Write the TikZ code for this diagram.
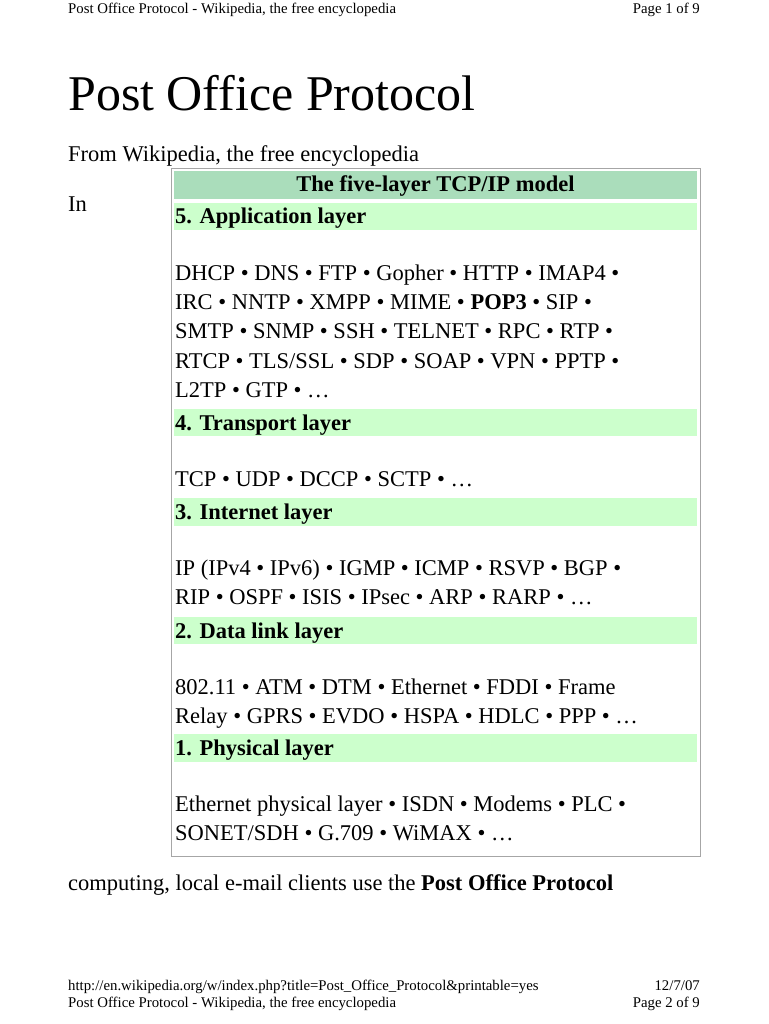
\documentclass[tikz,border=0pt]{standalone}
\usepackage{fontspec}
\setmainfont{Liberation Serif}
\begin{document}
\begin{tikzpicture}[x=1pt,y=-1pt,
  txt/.style={anchor=base west,inner sep=0pt,font=\fontsize{22.5}{25}\selectfont},
  btxt/.style={anchor=base west,inner sep=0pt,font=\fontsize{22.5}{25}\selectfont\bfseries},
  small/.style={inner sep=0pt,font=\fontsize{14.8}{16}\selectfont},
  ]
\definecolor{lightg}{HTML}{CCFFCC}
\definecolor{darkg}{HTML}{AADDBB}
\useasboundingbox (0,0) rectangle (768,1024);
\fill[white] (0,0) rectangle (768,1024);
\node[small,anchor=base west] (h1) at (68,14) {Post Office Protocol - Wikipedia, the free encyclopedia};
\node[small,anchor=base east] (h2) at (700,14) {Page 1 of 9};
\node[anchor=base west,inner sep=0pt,font=\fontsize{50}{52}\selectfont] (title) at (68,111) {Post Office Protocol};
\node[txt] (from) at (68,162) {From Wikipedia, the free encyclopedia};
\node[txt] (in) at (68,212) {In};
\draw[gray!70,line width=0.8pt] (171,168) rectangle (700,856);
\fill[darkg] (174,171) rectangle (697,199);
\foreach \a/\b in {203/230,409/436,498/526,617/644,734/762}{\fill[lightg] (174,\a) rectangle (697,\b);}
\node[anchor=base,inner sep=0pt,font=\fontsize{22.5}{25}\selectfont\bfseries] (th) at (435.5,192) {The five-layer TCP/IP model};
\node[btxt] (l5) at (175,224) {5. Application layer};
\node[txt] (a1) at (175,280) {DHCP • DNS • FTP • Gopher • HTTP • IMAP4 •};
\node[txt] (a2) at (175,309) {IRC • NNTP • XMPP • MIME • \textbf{POP3} • SIP •};
\node[txt] (a3) at (175,338) {SMTP • SNMP • SSH • TELNET • RPC • RTP •};
\node[txt] (a4) at (175,368) {RTCP • TLS/SSL • SDP • SOAP • VPN • PPTP •};
\node[txt] (a5) at (175,397) {L2TP • GTP • …};
\node[btxt] (l4) at (175,430) {4. Transport layer};
\node[txt] (t1) at (175,486) {TCP • UDP • DCCP • SCTP • …};
\node[btxt] (l3) at (175,519) {3. Internet layer};
\node[txt] (i1) at (175,575) {IP (IPv4 • IPv6) • IGMP • ICMP • RSVP • BGP •};
\node[txt] (i2) at (175,604) {RIP • OSPF • ISIS • IPsec • ARP • RARP • …};
\node[btxt] (l2) at (175,638) {2. Data link layer};
\node[txt] (d1) at (175,694) {802.11 • ATM • DTM • Ethernet • FDDI • Frame};
\node[txt] (d2) at (175,723) {Relay • GPRS • EVDO • HSPA • HDLC • PPP • …};
\node[btxt] (l1) at (175,755) {1. Physical layer};
\node[txt] (p1) at (175,811) {Ethernet physical layer • ISDN • Modems • PLC •};
\node[txt] (p2) at (175,840) {SONET/SDH • G.709 • WiMAX • …};
\node[txt] (comp) at (68,890) {computing, local e-mail clients use the \textbf{Post Office Protocol}};
\node[small,anchor=base west] (f1) at (68,990) {http://en.wikipedia.org/w/index.php?title=Post\_Office\_Protocol\&printable=yes};
\node[small,anchor=base east] (f2) at (700,990) {12/7/07};
\node[small,anchor=base west] (f3) at (68,1007) {Post Office Protocol - Wikipedia, the free encyclopedia};
\node[small,anchor=base east] (f4) at (700,1007) {Page 2 of 9};
\end{tikzpicture}
\end{document}
